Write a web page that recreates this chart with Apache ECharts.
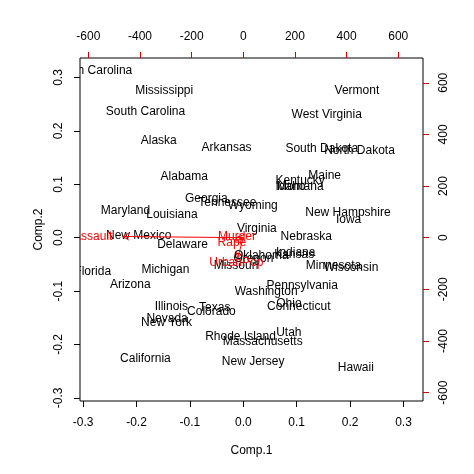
<!DOCTYPE html>
<html><head><meta charset="utf-8">
<script src="https://cdn.jsdelivr.net/npm/echarts@6/dist/echarts.min.js"></script>
<style>html,body{margin:0;padding:0;background:#fff}#c{width:474px;height:474px}</style>
</head><body><div id="c"></div>
<script>
const states = ['Alabama','Alaska','Arizona','Arkansas','California','Colorado','Connecticut','Delaware','Florida','Georgia','Hawaii','Idaho','Illinois','Indiana','Iowa','Kansas','Kentucky','Louisiana','Maine','Maryland','Massachusetts','Michigan','Minnesota','Mississippi','Missouri','Montana','Nebraska','Nevada','New Hampshire','New Jersey','New Mexico','New York','North Carolina','North Dakota','Ohio','Oklahoma','Oregon','Pennsylvania','Rhode Island','South Carolina','South Dakota','Tennessee','Texas','Utah','Vermont','Virginia','Washington','West Virginia','Wisconsin','Wyoming'];
const comp1 = [-0.1106,-0.1584,-0.2117,-0.0313,-0.1833,-0.0597,0.1039,-0.1139,-0.2820,-0.0692,0.2108,0.0884,-0.1348,0.0982,0.1972,0.0952,0.1065,-0.1336,0.1523,-0.2207,0.0363,-0.1458,0.1689,-0.1482,-0.0136,0.1066,0.1179,-0.1427,0.1959,0.0185,-0.1960,-0.1438,-0.2804,0.2176,0.0855,0.0336,0.0190,0.1104,-0.0052,-0.1831,0.1469,-0.0299,-0.0534,0.0852,0.2128,0.0253,0.0428,0.1562,0.2017,0.0178];
const comp2 = [0.1151,0.1808,-0.0887,0.1679,-0.2263,-0.1379,-0.1300,-0.0136,-0.0630,0.0733,-0.2442,0.0952,-0.1296,-0.0286,0.0335,-0.0318,0.1072,0.0432,0.1154,0.0504,-0.1955,-0.0593,-0.0524,0.2757,-0.0530,0.0956,0.0021,-0.1518,0.0475,-0.2326,0.0034,-0.1600,0.3127,0.1621,-0.1234,-0.0339,-0.0389,-0.0896,-0.1847,0.2366,0.1668,0.0654,-0.1305,-0.1774,0.2745,0.0176,-0.1002,0.2307,-0.0554,0.0595];
const variables = ['Murder','Assault','UrbanPop','Rape'];
const load1 = [-24.4,-583.2,-27.1,-44.1];
const load2 = [4.46,5.85,-97.2,-20.0];
const scoreTicks = [-0.3,-0.2,-0.1,0,0.1,0.2,0.3];
const loadTicks = [-600,-400,-200,0,200,400,600];
const scoreRange = [-0.3058,0.3365];
const loadRange = [-632.4,695.9];

const FONT = '"Liberation Sans", Arial, Helvetica, sans-serif';
const chart = echarts.init(document.getElementById('c'), null, {renderer:'canvas'});
function mkAxis(pos, range, ticks, color, fmt, margin, extra){
  return Object.assign({
    type:'value', position:pos, min:range[0], max:range[1],
    axisLine:{show:false, onZero:false},
    splitLine:{show:false},
    axisTick:{show:true, inside:false, length:6, customValues:ticks, lineStyle:{color:color, width:1}},
    axisLabel:{show:true, customValues:ticks, color:'#000', fontSize:12, fontFamily:FONT, formatter:fmt, margin:margin}
  }, extra||{});
}
const f1 = v => (Math.abs(v)<1e-9?0:v).toFixed(1);
const f0 = v => String(Math.round(v));
const option = {
  animation:false,
  backgroundColor:'#fff',
  grid:{left:80, top:58, width:343, height:343, show:true, borderColor:'#000', borderWidth:1, backgroundColor:'transparent'},
  xAxis:[
    mkAxis('bottom', scoreRange, scoreTicks, '#000', f1, 16, {name:'Comp.1', nameLocation:'middle', nameGap:44, nameTextStyle:{color:'#000', fontSize:12, fontFamily:FONT}}),
    mkAxis('top', loadRange, loadTicks, '#d00000', f0, 15)
  ],
  yAxis:[
    mkAxis('left', scoreRange, scoreTicks, '#000', f1, 15, {name:'Comp.2', nameLocation:'middle', nameGap:34, nameTextStyle:{color:'#000', fontSize:12, fontFamily:FONT}}),
    mkAxis('right', loadRange, loadTicks, '#d00000', f0, 15)
  ],
  series:[
    {
      type:'custom', xAxisIndex:0, yAxisIndex:0, clip:true,
      data: states.map((s,i)=>[comp1[i], comp2[i]]),
      encode:{x:0, y:1},
      renderItem:(params, api)=>{
        const p = api.coord([api.value(0), api.value(1)]);
        return {type:'text', x:p[0], y:p[1], style:{text:states[params.dataIndex], fill:'#000', font:'12px '+FONT, align:'center', verticalAlign:'middle'}};
      }
    },
    {
      type:'custom', xAxisIndex:1, yAxisIndex:1, clip:true,
      data: variables.map((v,i)=>[load1[i], load2[i]]),
      encode:{x:0, y:1},
      renderItem:(params, api)=>{
        const lx = api.value(0), ly = api.value(1);
        const o = api.coord([0,0]);
        const t = api.coord([0.8*lx, 0.8*ly]);
        const lp = api.coord([lx, ly]);
        const ang = Math.atan2(t[1]-o[1], t[0]-o[0]);
        const L = 7, a = Math.PI/6;
        const h1 = [t[0]-L*Math.cos(ang-a), t[1]-L*Math.sin(ang-a)];
        const h2 = [t[0]-L*Math.cos(ang+a), t[1]-L*Math.sin(ang+a)];
        return {type:'group', children:[
          {type:'line', shape:{x1:o[0], y1:o[1], x2:t[0], y2:t[1]}, style:{stroke:'#ff0000', lineWidth:1}},
          {type:'polyline', shape:{points:[h1, t, h2]}, style:{stroke:'#ff0000', fill:null, lineWidth:1}},
          {type:'text', x:lp[0], y:lp[1], style:{text:variables[params.dataIndex], fill:'#ff0000', font:'12px '+FONT, align:'center', verticalAlign:'middle'}}
        ]};
      }
    }
  ]
};
option.yAxis[0].axisLabel.rotate = 90;
option.yAxis[1].axisLabel.rotate = 90;
chart.setOption(option);
</script></body></html>
